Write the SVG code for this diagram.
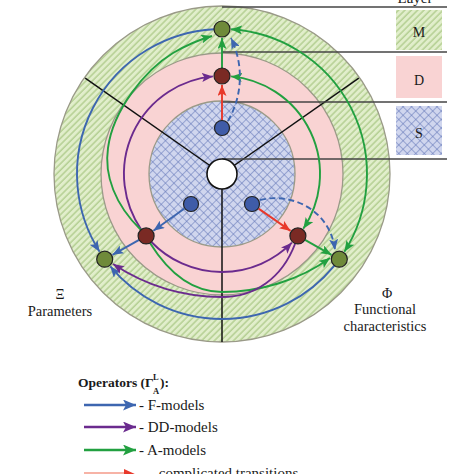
<svg xmlns="http://www.w3.org/2000/svg" width="474" height="474" viewBox="0 0 474 474">
<style>
.ring{stroke:#9a9a88;stroke-width:1.3}
.sec{stroke:#111;stroke-width:1.5;fill:none}
.hl{stroke:#444;stroke-width:1.6}
.node{stroke:#222;stroke-width:1.2}
.m{fill:#6f8a3a}
.d{fill:#7a2a24}
.s{fill:#3f5ca8}
.c{fill:none;stroke-width:1.9}
.lg{stroke-width:2.5}
.b{stroke:#3d66b0}
.p{stroke:#6b2b8e}
.g{stroke:#22a040}
.r{stroke:#e8382a}
.dash{stroke-dasharray:6 3.5}
.t{font-family:"Liberation Serif","Times New Roman",serif;fill:#1a1a1a}
</style>
<defs>
<pattern id="hatch" patternUnits="userSpaceOnUse" width="4.5" height="4.5" patternTransform="rotate(45)">
<rect width="4.5" height="4.5" fill="#e1eecb"/>
<line x1="1" y1="0" x2="1" y2="4.5" stroke="#a9c884" stroke-width="1.2"/>
</pattern>
<pattern id="cross" patternUnits="userSpaceOnUse" width="6" height="6" patternTransform="rotate(45)">
<rect width="6" height="6" fill="#d0d6ee"/>
<line x1="0" y1="0" x2="0" y2="6" stroke="#6276b8" stroke-width="1.1"/>
<line x1="0" y1="0" x2="6" y2="0" stroke="#6276b8" stroke-width="1.1"/>
</pattern>
<marker id="ab" markerUnits="userSpaceOnUse" markerWidth="11" markerHeight="9" refX="11" refY="4.5" orient="auto-start-reverse"><path d="M0,0 L11,4.5 L0,9 L2.5,4.5 z" fill="#3d66b0"/></marker>
<marker id="ap" markerUnits="userSpaceOnUse" markerWidth="11" markerHeight="9" refX="11" refY="4.5" orient="auto-start-reverse"><path d="M0,0 L11,4.5 L0,9 L2.5,4.5 z" fill="#6b2b8e"/></marker>
<marker id="ag" markerUnits="userSpaceOnUse" markerWidth="11" markerHeight="9" refX="11" refY="4.5" orient="auto-start-reverse"><path d="M0,0 L11,4.5 L0,9 L2.5,4.5 z" fill="#22a040"/></marker>
<marker id="ar" markerUnits="userSpaceOnUse" markerWidth="11" markerHeight="9" refX="11" refY="4.5" orient="auto-start-reverse"><path d="M0,0 L11,4.5 L0,9 L2.5,4.5 z" fill="#e8382a"/></marker>
<marker id="lb" markerUnits="userSpaceOnUse" markerWidth="13" markerHeight="11" refX="13" refY="5.5" orient="auto"><path d="M0,0 L13,5.5 L0,11 L3,5.5 z" fill="#3d66b0"/></marker>
<marker id="lp" markerUnits="userSpaceOnUse" markerWidth="13" markerHeight="11" refX="13" refY="5.5" orient="auto"><path d="M0,0 L13,5.5 L0,11 L3,5.5 z" fill="#6b2b8e"/></marker>
<marker id="lgm" markerUnits="userSpaceOnUse" markerWidth="13" markerHeight="11" refX="13" refY="5.5" orient="auto"><path d="M0,0 L13,5.5 L0,11 L3,5.5 z" fill="#22a040"/></marker>
</defs>
<rect width="474" height="474" fill="#fff"/>
<g id="layers">
<circle cx="222" cy="174" r="168" fill="url(#hatch)" class="ring"/>
<circle cx="222" cy="174" r="121" fill="#f9d3d3" class="ring"/>
<circle cx="222" cy="174" r="73" fill="url(#cross)" class="ring"/>
</g>
<g id="sectors">
<line class="sec" x1="222" y1="174" x2="85.2" y2="78.2"/>
<line class="sec" x1="222" y1="174" x2="358.8" y2="78.2"/>
<line class="sec" x1="222" y1="174" x2="222" y2="342"/>
</g>
<g id="layer-lines">
<line class="hl" x1="222" y1="7" x2="447" y2="7"/>
<line class="hl" x1="222" y1="52" x2="447" y2="52"/>
<line class="hl" x1="222" y1="102" x2="447" y2="102"/>
<line class="hl" x1="222" y1="159" x2="447" y2="159"/>
</g>
<g id="layer-legend">
<text class="t" x="415" y="3" font-size="15" text-anchor="middle">Layer</text>
<rect x="396" y="10" width="46" height="40" fill="url(#hatch)"/>
<text class="t" x="419" y="37" font-size="14" text-anchor="middle">M</text>
<rect x="396" y="56" width="46" height="42" fill="#f9d3d3"/>
<text class="t" x="419" y="85" font-size="14" text-anchor="middle">D</text>
<rect x="396" y="106" width="46" height="49" fill="url(#cross)"/>
<text class="t" x="419" y="138" font-size="14" text-anchor="middle">S</text>
</g>
<g id="center"><circle cx="222" cy="174" r="15" fill="#fff" stroke="#111" stroke-width="1.6"/></g>
<g id="connectors">
<path class="c b" d="M213.9,29.2 A145,145 0 0 0 99.6,251.7" marker-end="url(#ab)"/>
<path class="c g" d="M231.1,29.3 A145,145 0 0 1 344.4,251.7" marker-start="url(#ag)" marker-end="url(#ag)"/>
<path class="c b" d="M334.4,265.6 A145,145 0 0 1 110.3,266.4" marker-end="url(#ab)"/>
<path class="c p" d="M141.2,229.5 A98,98 0 0 1 212.9,76.4" marker-end="url(#ap)"/>
<path class="c g" d="M231.1,76.4 A98,98 0 0 1 303.3,228.7" marker-start="url(#ag)" marker-end="url(#ag)"/>
<path class="c p" d="M151.4,242 A98,98 0 0 0 291.9,242.7" marker-end="url(#ap)"/>
<path class="c g" d="M141,230 C115,205 104,175 108,148 C113,110 145,70 173,53 C185,46 198,40 212,36" marker-end="url(#ag)"/>
<path class="c g" d="M150,243 C170,275 195,292 222,292 C260,292 300,280 330,258" marker-end="url(#ag)"/>
<path class="c p" d="M295,244 C282,278 255,297 222,297 C180,297 145,285 113,264" marker-end="url(#ap)"/>
<path class="c b dash" d="M228,121 C240,100 246,70 231,38" marker-end="url(#ab)"/>
<path class="c b dash" d="M260,200 C292,192 330,210 335,250" marker-end="url(#ab)"/>
<path class="c r" d="M222,120 L222,85" marker-end="url(#ar)"/>
<path class="c g" d="M222,68 L222,38" marker-end="url(#ag)"/>
<path class="c r" d="M258.6,208.6 L290.6,230.9" marker-end="url(#ar)"/>
<path class="c g" d="M305,239.9 L331.5,254.8" marker-end="url(#ag)"/>
<path class="c b" d="M184.5,208.6 L153.4,230.7" marker-end="url(#ab)"/>
<path class="c b" d="M139.1,239.8 L112.5,254.8" marker-end="url(#ab)"/>
</g>
<g id="node-m-top"><circle class="node m" cx="222" cy="29" r="8"/></g>
<g id="node-d-top"><circle class="node d" cx="222" cy="76" r="8"/></g>
<g id="node-s-top"><circle class="node s" cx="222" cy="128" r="7.5"/></g>
<g id="node-s-left"><circle class="node s" cx="191" cy="204" r="7.5"/></g>
<g id="node-s-right"><circle class="node s" cx="252" cy="204" r="7.5"/></g>
<g id="node-d-left"><circle class="node d" cx="146.1" cy="235.9" r="8"/></g>
<g id="node-d-right"><circle class="node d" cx="297.9" cy="235.9" r="8"/></g>
<g id="node-m-left"><circle class="node m" cx="104.7" cy="259.2" r="8"/></g>
<g id="node-m-right"><circle class="node m" cx="339.3" cy="259.2" r="8"/></g>
<g id="labels">
<text class="t" x="60" y="299" font-size="14" text-anchor="middle">Ξ</text>
<text class="t" x="60" y="316" font-size="14.5" text-anchor="middle">Parameters</text>
<text class="t" x="387" y="298" font-size="14" text-anchor="middle">Φ</text>
<text class="t" x="385" y="314" font-size="14.5" text-anchor="middle">Functional</text>
<text class="t" x="385" y="331" font-size="14.5" text-anchor="middle">characteristics</text>
</g>
<g id="legend">
<text class="t" x="78" y="387" font-size="13.5" font-weight="bold">Operators (Γ</text>
<text class="t" x="153" y="380" font-size="8.5" font-weight="bold">L</text>
<text class="t" x="153" y="394" font-size="8.5" font-weight="bold">A</text>
<text class="t" x="160" y="387" font-size="13.5" font-weight="bold">):</text>
<path class="c lg b" d="M84,405 L136,405" marker-end="url(#lb)"/>
<text class="t" x="139" y="410" font-size="15">- F-models</text>
<path class="c lg p" d="M84,427 L136,427" marker-end="url(#lp)"/>
<text class="t" x="139" y="432" font-size="15">- DD-models</text>
<path class="c lg g" d="M84,450 L136,450" marker-end="url(#lgm)"/>
<text class="t" x="139" y="455" font-size="15">- A-models</text>
<path d="M84,475 L126,475" stroke="#f7b3a6" stroke-width="6" fill="none"/>
<path d="M124,469 L137,475 L124,481 z" fill="#e8382a"/>
<text class="t" x="150" y="478" font-size="15">- complicated transitions</text>
</g>
</svg>
